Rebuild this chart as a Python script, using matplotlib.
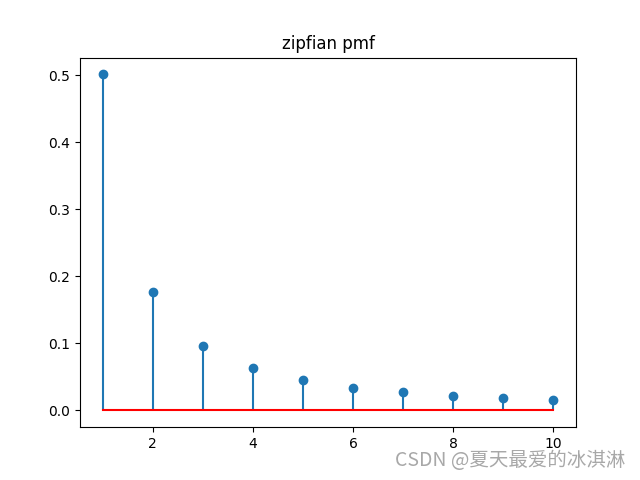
import matplotlib
matplotlib.use("Agg")
import matplotlib.pyplot as plt

x = [1, 2, 3, 4, 5, 6, 7, 8, 9, 10]
pmf = [0.501, 0.177, 0.0965, 0.0627, 0.0448, 0.0341, 0.0271, 0.0222, 0.0186, 0.0159]

fig, ax = plt.subplots(figsize=(6.4, 4.8), dpi=100)
ml, sl, bl = ax.stem(x, pmf)
bl.set_color('red')
ax.set_title('zipfian pmf')
fig.text(0.977, 0.04, 'CSDN @夏天最爱的冰淇淋', ha='right', va='center',
         fontsize=14, color='#a8a8a8',
         family=['Noto Sans CJK SC', 'DejaVu Sans'])
fig.savefig('out.png')
